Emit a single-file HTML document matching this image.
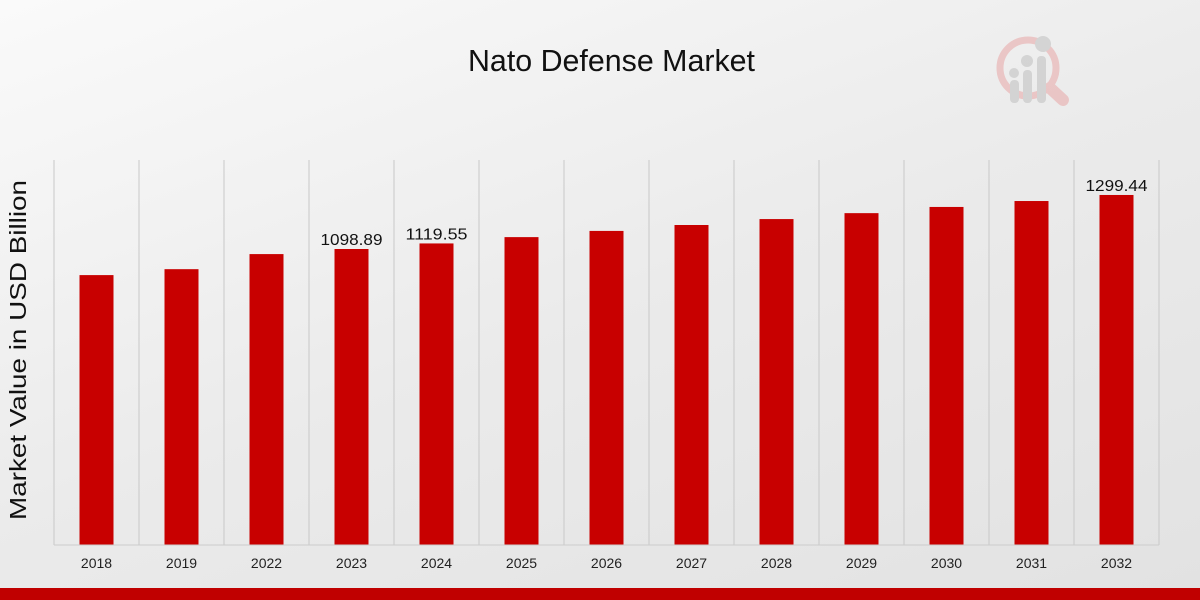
<!DOCTYPE html>
<html><head><meta charset="utf-8"><style>
body{margin:0;width:1200px;height:600px;overflow:hidden;font-family:"Liberation Sans",sans-serif}
#bg{position:absolute;left:0;top:0;width:1200px;height:600px;background:linear-gradient(160deg,#fafafa 0%,#ebebeb 50%,#e2e2e2 100%)}
</style></head><body>
<div id="bg"></div>
<svg id="chart" width="1200" height="600" style="position:absolute;left:0;top:0">
<text x="468" y="71" font-size="31" fill="#111" textLength="287" lengthAdjust="spacingAndGlyphs">Nato Defense Market</text>
<g opacity="0.5">
<circle cx="1028" cy="68" r="28" fill="none" stroke="#e8a0a0" stroke-width="7"/>
<line x1="1050" y1="88" x2="1063" y2="100" stroke="#e8a0a0" stroke-width="12" stroke-linecap="round"/>
<rect x="1010" y="80" width="9" height="23" rx="4" fill="#bbb"/>
<rect x="1023" y="70" width="9" height="33" rx="4" fill="#bbb"/>
<rect x="1037" y="56" width="9" height="47" rx="4" fill="#bbb"/>
<circle cx="1014" cy="73" r="5" fill="#bbb"/><circle cx="1027" cy="61" r="6" fill="#bbb"/><circle cx="1043" cy="44" r="8" fill="#bbb"/>
</g>
<text transform="translate(26 520) rotate(-90)" font-size="23" fill="#111" textLength="340" lengthAdjust="spacingAndGlyphs">Market Value in USD Billion</text>
<g id="grid"></g><g id="bars"></g>
<line x1="54" y1="545" x2="1159" y2="545" stroke="#ccc"/>
<rect x="0" y="588" width="1200" height="12" fill="#c00000"/>
</svg>
<script>
const categories=["2018","2019","2022","2023","2024","2025","2026","2027","2028","2029","2030","2031","2032"];
const values=[1002,1024,1080,1098.89,1119.55,1143,1166,1188,1210,1232,1255,1277,1299.44];
const labels=["","","","1098.89","1119.55","","","","","","","","1299.44"];
const ns="http://www.w3.org/2000/svg";
const x0=54,step=85,base=545,k=296/1098.89;
const xs=i=>x0+step*i, ys=v=>base-v*k;
const g=document.getElementById('grid'),b=document.getElementById('bars');
for(let i=0;i<=categories.length;i++){
 const l=document.createElementNS(ns,'line');
 l.setAttribute('x1',xs(i));l.setAttribute('x2',xs(i));l.setAttribute('y1',160);l.setAttribute('y2',545);
 l.setAttribute('stroke','#c8c8c8');
 
 
 g.appendChild(l);
}
categories.forEach((c,i)=>{
 const cx=xs(i)+step/2;
 const r=document.createElementNS(ns,'rect');
 r.setAttribute('x',cx-17);r.setAttribute('width',34);r.setAttribute('y',ys(values[i]));r.setAttribute('height',base-ys(values[i]));
 r.setAttribute('fill','#c80000');
 
 
 b.appendChild(r);
 const t=document.createElementNS(ns,'text');
 t.setAttribute('x',cx);t.setAttribute('y',568);t.setAttribute('text-anchor','middle');t.setAttribute('font-size','14');t.setAttribute('fill','#222');
 t.textContent=c;
 
 
 b.appendChild(t);
 if(labels[i]){
  const v=document.createElementNS(ns,'text');
  v.setAttribute('x',cx-31);v.setAttribute('y',ys(values[i])-4);v.setAttribute('font-size','16');v.setAttribute('fill','#111');
  v.setAttribute('textLength','62');v.setAttribute('lengthAdjust','spacingAndGlyphs');
  v.textContent=labels[i];
  
  
  b.appendChild(v);
 }
});
</script>
</body></html>
